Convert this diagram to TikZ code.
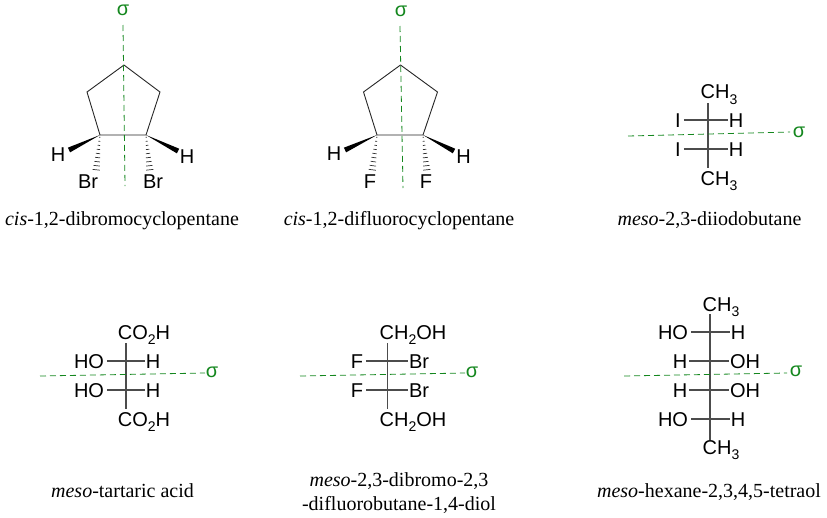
\documentclass[tikz,border=0pt]{standalone}
\usepackage{fontspec}
\setmainfont{Liberation Serif}
\newfontfamily\atomfont{Liberation Sans}
\usetikzlibrary{calc}
\definecolor{planegreen}{RGB}{20,135,30}
\newcommand{\sbs}[1]{\raisebox{-0.28em}{\fontsize{14}{14}\selectfont #1}}
\newcommand{\wedgebond}[2]{\fill (#1) -- ($(#2)!2.6pt!90:(#1)$) -- ($(#2)!2.6pt!-90:(#1)$) -- cycle;}
\newcommand{\hashbond}[2]{\foreach \t/\w in {0.06/0.6,0.17/1.0,0.28/1.3,0.39/1.7,0.5/2.1,0.61/2.5,0.72/2.8,0.83/3.2,0.94/3.6}{\draw[line width=0.7pt,black!80] ($(#1)!\t!(#2)!\w pt!90:(#2)$) -- ($(#1)!\t!(#2)!\w pt!-90:(#2)$);}}
\tikzset{
  atom/.style={font=\atomfont\fontsize{20}{22}\selectfont,inner sep=0pt,text=black,anchor=base},
  caption/.style={font=\fontsize{20}{24}\selectfont,inner sep=0pt,align=center,text=black,anchor=base},
  sigmalabel/.style={font=\atomfont\fontsize{20}{22}\selectfont,inner sep=0pt,text=planegreen,anchor=base},
  bond/.style={draw=black!85,line width=0.9pt},
  fisher/.style={draw=black!70,line width=1.1pt},
  plane/.style={draw=planegreen,line width=0.8pt,dash pattern=on 6pt off 4pt},
}
\begin{document}
\begin{tikzpicture}[x=1pt,y=-1pt]
\useasboundingbox (0,0) rectangle (827,517);
% --- cis-1,2-dibromocyclopentane
\coordinate (a1) at (124,65);
\coordinate (a2) at (160,92);
\coordinate (a3) at (146,135);
\coordinate (a4) at (100,135);
\coordinate (a5) at (87,92);
\coordinate (aw1) at (69,150);
\coordinate (aw2) at (178,151);
\coordinate (ah1) at (96,172);
\coordinate (ah2) at (150,172);
\node[atom] (aH1) at (58,161) {H};
\node[atom] (aH2) at (187,163) {H};
\node[atom] (aBr1) at (88,188) {Br};
\node[atom] (aBr2) at (153,188) {Br};
\node[sigmalabel] (aS) at (123,15) {σ};
\coordinate (ap1) at (123,25);
\coordinate (ap2) at (125,186);
\draw[bond] (a1) -- (a2) -- (a3) -- (a4) -- (a5) -- (a1);
\wedgebond{a4}{aw1}
\wedgebond{a3}{aw2}
\hashbond{a4}{ah1}
\hashbond{a3}{ah2}
\draw[plane] (ap1) -- (ap2);
\node[caption] (aC) at (122,225) {\textit{cis}-1,2-dibromocyclopentane};
% --- cis-1,2-difluorocyclopentane
\coordinate (b1) at (400.5,65);
\coordinate (b2) at (437.5,92);
\coordinate (b3) at (423,135);
\coordinate (b4) at (377,135);
\coordinate (b5) at (363.5,92);
\coordinate (bw1) at (345,150);
\coordinate (bw2) at (454,151);
\coordinate (bh1) at (372,172);
\coordinate (bh2) at (427,172);
\node[atom] (bH1) at (334,160.5) {H};
\node[atom] (bH2) at (463.5,163) {H};
\node[atom] (bF1) at (370,188) {F};
\node[atom] (bF2) at (426,188) {F};
\node[sigmalabel] (bS) at (401,16) {σ};
\coordinate (bp1) at (400,26);
\coordinate (bp2) at (403,188);
\draw[bond] (b1) -- (b2) -- (b3) -- (b4) -- (b5) -- (b1);
\wedgebond{b4}{bw1}
\wedgebond{b3}{bw2}
\hashbond{b4}{bh1}
\hashbond{b3}{bh2}
\draw[plane] (bp1) -- (bp2);
\node[caption] (bC) at (399,225) {\textit{cis}-1,2-difluorocyclopentane};
% --- meso-2,3-diiodobutane
\coordinate (c1) at (708,103);
\coordinate (c2) at (708,168);
\coordinate (c3) at (708,120);
\coordinate (c4) at (708,149);
\node[atom] (cT) at (719,98.5) {CH\sbs{3}};
\node[atom] (cB) at (719,185) {CH\sbs{3}};
\node[atom] (cI1) at (678,127.5) {I};
\node[atom] (cI2) at (678,156.5) {I};
\node[atom] (cH1) at (736,127.5) {H};
\node[atom] (cH2) at (736,156.5) {H};
\node[sigmalabel] (cS) at (799,137) {σ};
\coordinate (cp1) at (628,136);
\coordinate (cp2) at (790,132);
\draw[fisher] (c1) -- (c2);
\draw[fisher] ($(c3-|cI1.east)+(3,0)$) -- (c3) -- ($(c3-|cH1.west)+(-1,0)$);
\draw[fisher] ($(c4-|cI2.east)+(3,0)$) -- (c4) -- ($(c4-|cH2.west)+(-1,0)$);
\draw[plane] (cp1) -- (cp2);
\node[caption] (cC) at (709.5,225) {\textit{meso}-2,3-diiodobutane};
% --- meso-tartaric acid
\coordinate (d1) at (126,343);
\coordinate (d2) at (126,409);
\coordinate (d3) at (126,361);
\coordinate (d4) at (126,390);
\node[atom] (dT) at (144,339) {CO\sbs{2}H};
\node[atom] (dB) at (144,426) {CO\sbs{2}H};
\node[atom] (dL1) at (89,368) {HO};
\node[atom] (dL2) at (89,397) {HO};
\node[atom] (dH1) at (153,368) {H};
\node[atom] (dH2) at (153,397) {H};
\node[sigmalabel] (dS) at (212,377) {σ};
\coordinate (dp1) at (40,376);
\coordinate (dp2) at (205,373);
\draw[fisher] (d1) -- (d2);
\draw[fisher] ($(d3-|dL1.east)+(3,0)$) -- (d3) -- ($(d3-|dH1.west)+(-1,0)$);
\draw[fisher] ($(d4-|dL2.east)+(3,0)$) -- (d4) -- ($(d4-|dH2.west)+(-1,0)$);
\draw[plane] (dp1) -- (dp2);
\node[caption] (dC) at (122.5,497) {\textit{meso}-tartaric acid};
% --- meso-2,3-dibromo-2,3-difluorobutane-1,4-diol
\coordinate (e1) at (387.5,343);
\coordinate (e2) at (387.5,409);
\coordinate (e3) at (387.5,361);
\coordinate (e4) at (387.5,390);
\node[atom] (eT) at (413,339) {CH\sbs{2}OH};
\node[atom] (eB) at (413,426) {CH\sbs{2}OH};
\node[atom] (eF1) at (357,368) {F};
\node[atom] (eF2) at (357,397) {F};
\node[atom] (eBr1) at (419,368) {Br};
\node[atom] (eBr2) at (419,397) {Br};
\node[sigmalabel] (eS) at (472,377) {σ};
\coordinate (ep1) at (300,376);
\coordinate (ep2) at (465,373);
\draw[fisher] (e1) -- (e2);
\draw[fisher] ($(e3-|eF1.east)+(3,0)$) -- (e3) -- ($(e3-|eBr1.west)+(-1,0)$);
\draw[fisher] ($(e4-|eF2.east)+(3,0)$) -- (e4) -- ($(e4-|eBr2.west)+(-1,0)$);
\draw[plane] (ep1) -- (ep2);
\node[caption,anchor=center] (eC) at (399,493) {\textit{meso}-2,3-dibromo-2,3\\-difluorobutane-1,4-diol};
% --- meso-hexane-2,3,4,5-tetraol
\coordinate (f1) at (710,314);
\coordinate (f2) at (710,440);
\coordinate (f3) at (710,332);
\coordinate (f4) at (710,361);
\coordinate (f5) at (710,390);
\coordinate (f6) at (710,419);
\node[atom] (fT) at (721,311) {CH\sbs{3}};
\node[atom] (fB) at (721,454) {CH\sbs{3}};
\node[atom] (fL1) at (673,339) {HO};
\node[atom] (fH1) at (738,339) {H};
\node[atom] (fL2) at (680,368) {H};
\node[atom] (fO2) at (745,368) {OH};
\node[atom] (fL3) at (680,397) {H};
\node[atom] (fO3) at (745,397) {OH};
\node[atom] (fL4) at (673,426) {HO};
\node[atom] (fH4) at (738,426) {H};
\node[sigmalabel] (fS) at (796,376) {σ};
\coordinate (fp1) at (624,376);
\coordinate (fp2) at (787,373);
\draw[fisher] (f1) -- (f2);
\draw[fisher] ($(f3-|fL1.east)+(3,0)$) -- (f3) -- ($(f3-|fH1.west)+(-1,0)$);
\draw[fisher] ($(f4-|fL2.east)+(2,0)$) -- (f4) -- ($(f4-|fO2.west)+(-1,0)$);
\draw[fisher] ($(f5-|fL3.east)+(2,0)$) -- (f5) -- ($(f5-|fO3.west)+(-1,0)$);
\draw[fisher] ($(f6-|fL4.east)+(3,0)$) -- (f6) -- ($(f6-|fH4.west)+(-1,0)$);
\draw[plane] (fp1) -- (fp2);
\node[caption] (fC) at (709,497) {\textit{meso}-hexane-2,3,4,5-tetraol};
\end{tikzpicture}
\end{document}
